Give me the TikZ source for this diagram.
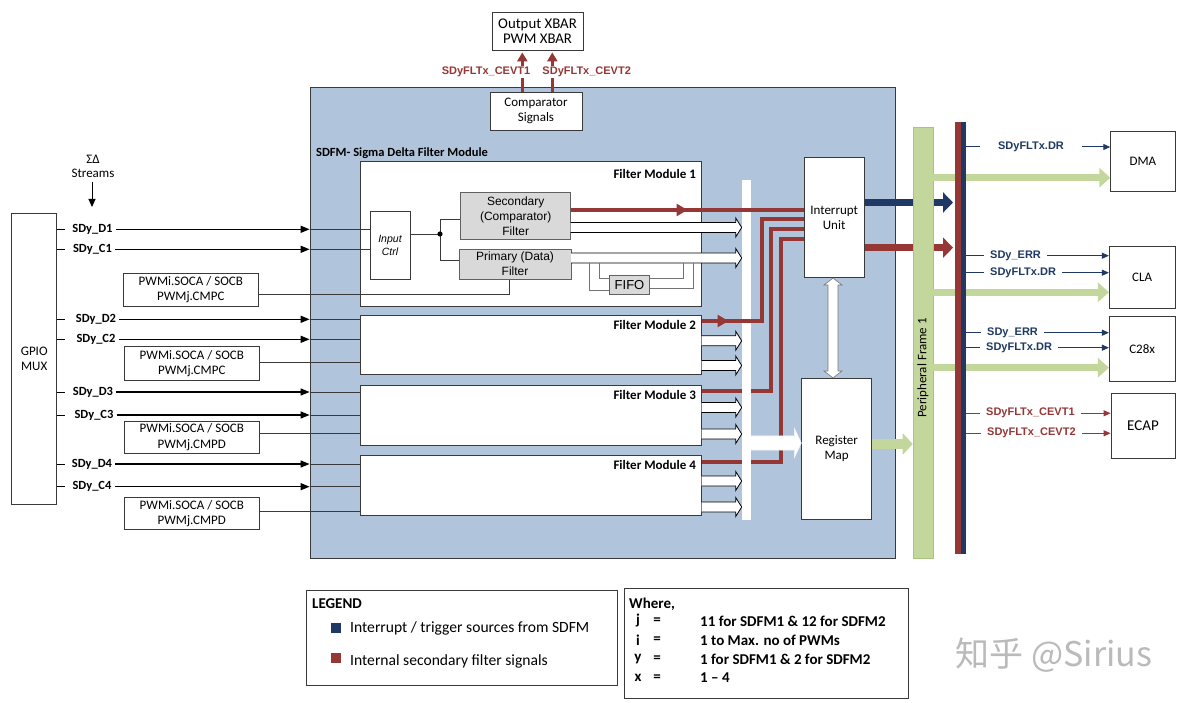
\documentclass[tikz,border=0pt]{standalone}
\usepackage{fontspec}
\setmainfont{Carlito}
\newfontfamily\arialf{Liberation Sans}
\newfontfamily\cjkf{Noto Sans CJK SC}
\usetikzlibrary{arrows.meta}
\definecolor{sdblue}{HTML}{B0C4DC}
\definecolor{redc}{HTML}{953735}
\definecolor{navyc}{HTML}{1F3864}
\definecolor{greenc}{HTML}{C3D69B}
\definecolor{greenl}{HTML}{A9C47F}
\definecolor{grayf}{HTML}{D9D9D9}
\definecolor{bline}{HTML}{3A3A3A}
\newcommand\hollowarrow[3]{\draw[fill=white,draw=black,line width=0.8pt] (#1,{#3-5}) -- ({#2-6},{#3-5}) -- ({#2-6},{#3-9.5}) -- (#2,#3) -- ({#2-6},{#3+9.5}) -- ({#2-6},{#3+5}) -- (#1,{#3+5});}
\begin{document}
\begin{tikzpicture}[x=1pt,y=-1pt,
 bx/.style={draw=bline,line width=0.8pt,fill=white,inner sep=0pt,align=center,font=\fontsize{13}{15.3}\selectfont},
 grbx/.style={draw=bline!80,line width=0.8pt,fill=grayf,inner sep=0pt,align=center,font=\arialf\fontsize{12}{15}\selectfont},
 fmlab/.style={anchor=east,inner sep=0pt,font=\bfseries\fontsize{13}{15}\selectfont},
 sig/.style={inner sep=3pt,font=\bfseries\fontsize{12.5}{15}\selectfont},
 sigarr/.style={line width=1.3pt,-{Triangle[length=9pt,width=7pt]}},
 thinl/.style={draw=bline,line width=0.9pt},
 fifol/.style={draw=black!55,line width=0.9pt},
 redl/.style={draw=redc,line width=4pt},
 rlab/.style={fill=white,inner xsep=6pt,inner ysep=1pt,anchor=west,font=\arialf\bfseries\fontsize{11}{13}\selectfont},
 toplab/.style={fill=white,inner sep=1pt,text=redc,font=\arialf\bfseries\fontsize{11}{13}\selectfont},
 tharr/.style={line width=1pt,-{Triangle[length=7pt,width=6pt]}},
 grarr/.style={draw=greenc,line width=7pt,-{Triangle[length=11pt,width=19pt]}},
 legt/.style={anchor=west,inner sep=0pt,font=\fontsize{15.6}{17}\selectfont},
 wht/.style={inner sep=0pt,font=\bfseries\fontsize{15}{17}\selectfont},
]
\fill[white] (0,0) rectangle (1187,703);
\useasboundingbox (0,0) rectangle (1187,703);

% SDFM main block
\node[draw=bline,line width=0.8pt,fill=sdblue,minimum width=585pt,minimum height=471pt,inner sep=0pt] (sdfm) at (602.5,322.5) {};
\node[anchor=west,inner sep=0pt,font=\bfseries\fontsize{12.5}{15}\selectfont] (sdfmt) at (316,153) {SDFM- Sigma Delta Filter Module};

% top boxes
\node[bx,font=\fontsize{14.8}{14.7}\selectfont,minimum width=91pt,minimum height=38pt] (oxbar) at (537.5,31) {Output XBAR\\PWM XBAR};
\node[bx,minimum width=92pt,minimum height=38pt] (cmp) at (536,111) {Comparator\\Signals};
\draw[draw=redc,line width=3pt,-{Triangle[length=9pt,width=10pt]},shorten >=2pt] (cmp.north -| 522.3,0) -- (oxbar.south -| 522.3,0);
\draw[draw=redc,line width=3pt,-{Triangle[length=9pt,width=10pt]},shorten >=2pt] (cmp.north -| 552.3,0) -- (oxbar.south -| 552.3,0);
\node[toplab] (cev1) at (486,72) {SDyFLTx\_CEVT1};
\node[toplab] (cev2) at (586.7,72) {SDyFLTx\_CEVT2};

% filter modules
\node[bx,minimum width=341.7pt,minimum height=145pt] (fm1) at (530.85,233.5) {};
\node[bx,minimum width=341.7pt,minimum height=59pt] (fm2) at (530.85,344.5) {};
\node[bx,minimum width=341.7pt,minimum height=60pt] (fm3) at (530.85,415) {};
\node[bx,minimum width=341.7pt,minimum height=60pt] (fm4) at (530.85,485) {};
\node[fmlab] at ([xshift=-6pt,yshift=-13pt]fm1.north east) {Filter Module 1};
\node[fmlab] at ([xshift=-6pt,yshift=-10pt]fm2.north east) {Filter Module 2};
\node[fmlab] at ([xshift=-6pt,yshift=-10pt]fm3.north east) {Filter Module 3};
\node[fmlab] at ([xshift=-6pt,yshift=-10pt]fm4.north east) {Filter Module 4};

% inside filter module 1
\node[bx,font=\arialf\itshape\fontsize{10.5}{13.3}\selectfont,minimum width=40pt,minimum height=67.6pt] (ictrl) at (390,245.5) {Input\\Ctrl};
\node[grbx,minimum width=110pt,minimum height=46.6pt] (sec) at (515.7,216) {Secondary\\(Comparator)\\Filter};
\node[grbx,minimum width=112pt,minimum height=30.3pt] (pri) at (515,264.15) {Primary (Data)\\Filter};
\node[grbx,font=\arialf\fontsize{13}{15}\selectfont,minimum width=39.6pt,minimum height=18.7pt] (fifo) at (629.5,284.65) {FIFO};
\coordinate (dot) at (440,234);
\draw[thinl] (ictrl.east |- dot) -- (dot);
\draw[thinl] (dot) |- (sec.west |- 0,219.3);
\draw[thinl] (dot) |- (pri.west |- 0,260);
\fill[black] (dot) circle (2.6pt);

% interrupt unit and register map
\node[bx,minimum width=60.3pt,minimum height=120pt] (iu) at (834.15,217.7) {Interrupt\\Unit};
\node[bx,minimum width=70pt,minimum height=140.7pt] (rm) at (836.7,448.65) {Register\\Map};

% hollow arrows
\hollowarrow{570.7}{741.7}{227.5}
\hollowarrow{571}{741.7}{258}
\hollowarrow{701.7}{741.7}{340.8}
\hollowarrow{701.7}{741.7}{365.5}
\hollowarrow{701.7}{741.7}{407.5}
\hollowarrow{701.7}{741.7}{434}
\hollowarrow{701.7}{741.7}{481}
\hollowarrow{701.7}{741.7}{507}

% FIFO loops
\draw[fifol] (589.3,263.3) |- (fifo.west |- 0,290);
\draw[fifol] (599.3,263.3) |- (fifo.west |- 0,278.3);
\draw[fifol] (fifo.east |- 0,278.3) -| (683.3,263.3);
\draw[fifol] (fifo.east |- 0,288.3) -| (693.3,263.3);

% red internal lines (behind the bar)
\draw[redl] (fm3.east |- 0,390.7) -| (771,229.5) -- (iu.west |- 0,229.5);
\draw[redl] (fm4.east |- 0,461.7) -| (781,239.5) -- (iu.west |- 0,239.5);

% white bar
\node[fill=white,minimum width=9pt,minimum height=340pt,inner sep=0pt] (wbar) at (746.5,350) {};

% red internal lines (over the bar)
\draw[redl] (sec.east |- 0,210) -- (iu.west |- 0,210);
\draw[draw=redc,line width=4pt,-{Triangle[length=11pt,width=12pt]}] (674,210) -- (687.5,210);
\draw[redl] (fm2.east |- 0,321) -| (761.5,219.5) -- (iu.west |- 0,219.5);
\draw[draw=redc,line width=4pt,-{Triangle[length=11pt,width=12pt]}] (714,321) -- (728.5,321);

% white arrow bar -> register map
\draw[fill=white,draw=white!80!sdblue,line width=0.6pt] (wbar.east |- 0,436) -- (794.5,436) -- (794.5,428.5) -- (rm.west |- 0,443) -- (794.5,457.5) -- (794.5,450) -- (wbar.east |- 0,450);
% double arrow iu <-> rm
\draw[fill=white,draw=bline!70,line width=0.6pt] (iu.south -| 833,0) -- (842,285) -- (838,285) -- (838,371) -- (842,371) -- (rm.north -| 833,0) -- (824,371) -- (828,371) -- (828,285) -- (824,285) -- cycle;

% thick arrows to the bus
\coordinate (busin) at (953,338);
\draw[draw=navyc,line width=6.5pt,-{Triangle[length=10pt,width=20pt]}] (iu.east |- 0,202.5) -- (busin |- 0,202.5);
\draw[draw=redc,line width=6.7pt,-{Triangle[length=10pt,width=20pt]}] (iu.east |- 0,247.7) -- (busin |- 0,247.7);

% peripheral frame
\node[fill=greenc,draw=greenl,line width=0.6pt,minimum width=20pt,minimum height=431pt,inner sep=0pt] (pf) at (923,342.5) {};
\node[rotate=90,inner sep=0pt,font=\fontsize{13}{15}\selectfont] (pft) at (923,368) {Peripheral Frame 1};

% right boxes
\node[bx,minimum width=64.3pt,minimum height=60pt] (dma) at (1142.85,161) {DMA};
\node[bx,minimum width=65.7pt,minimum height=62.3pt] (cla) at (1142.15,277.15) {CLA};
\node[bx,minimum width=65.7pt,minimum height=64.3pt] (c28) at (1142.15,348.85) {C28x};
\node[bx,minimum width=64pt,minimum height=65pt,font=\fontsize{15}{17}\selectfont] (ecap) at (1143,425.8) {ECAP};

% green arrows
\draw[grarr] (pf.east |- 0,177.7) -- (dma.west |- 0,177.7);
\draw[grarr] (pf.east |- 0,292.3) -- (cla.west |- 0,292.3);
\draw[grarr] (pf.east |- 0,367.7) -- (c28.west |- 0,367.7);
\draw[draw=greenc,line width=9pt,-{Triangle[length=10pt,width=21pt]}] (rm.east |- 0,444) -- (pf.west |- 0,444);

% bus
\node[fill=redc,minimum width=5.7pt,minimum height=432pt,inner sep=0pt] (busr) at (957.85,338) {};
\node[fill=navyc,minimum width=5pt,minimum height=432pt,inner sep=0pt] (busn) at (963.2,338) {};

% signals to right boxes
\draw[tharr,navyc] (busn.east |- 0,147) -- (dma.west |- 0,147);
\node[rlab,text=navyc,anchor=center,inner xsep=18pt] at (1031,147) {SDyFLTx.DR};
\draw[tharr,navyc] (busn.east |- 0,255.7) -- (cla.west |- 0,255.7);
\node[rlab,text=navyc] at (984,255.7) {SDy\_ERR};
\draw[tharr,navyc] (busn.east |- 0,272.7) -- (cla.west |- 0,272.7);
\node[rlab,text=navyc] at (984,272.7) {SDyFLTx.DR};
\draw[tharr,navyc] (busn.east |- 0,332.7) -- (c28.west |- 0,332.7);
\node[rlab,text=navyc] at (981,332.7) {SDy\_ERR};
\draw[tharr,navyc] (busn.east |- 0,347.7) -- (c28.west |- 0,347.7);
\node[rlab,text=navyc] at (980,347.7) {SDyFLTx.DR};
\draw[tharr,redc] (busn.east |- 0,413.3) -- (ecap.west |- 0,413.3);
\node[rlab,text=redc] at (980,413.3) {SDyFLTx\_CEVT1};
\draw[tharr,redc] (busn.east |- 0,433.3) -- (ecap.west |- 0,433.3);
\node[rlab,text=redc] at (981,433.3) {SDyFLTx\_CEVT2};

% left side
\node[bx,minimum width=45pt,minimum height=290.7pt] (gpio) at (34.2,358.65) {GPIO\\MUX};
\node[bx,minimum width=135pt,minimum height=33pt] (pwm1) at (190.8,289.5) {PWMi.SOCA / SOCB\\PWMj.CMPC};
\node[bx,minimum width=135pt,minimum height=33.3pt] (pwm2) at (191.8,363.35) {PWMi.SOCA / SOCB\\PWMj.CMPC};
\node[bx,minimum width=135pt,minimum height=32.3pt] (pwm3) at (191.8,437.15) {PWMi.SOCA / SOCB\\PWMj.CMPD};
\node[bx,minimum width=135pt,minimum height=32pt] (pwm4) at (191.8,513.3) {PWMi.SOCA / SOCB\\PWMj.CMPD};
\draw[thinl] (pwm1.east |- 0,294) -| (pri.south -| 509.3,0);
\draw[thinl] (pwm2.east |- 0,362.7) -- (fm2.west |- 0,362.7);
\draw[thinl] (pwm3.east |- 0,433.3) -- (fm3.west |- 0,433.3);
\draw[thinl] (pwm4.east |- 0,511) -- (fm4.west |- 0,511);

\foreach \nm/\yy/\xx/\tgt in {D1/229.3/92.5/ictrl, C1/249.3/92.5/ictrl, D2/319.3/96/fm2, C2/339.3/96/fm2, D3/392/93/fm3, C3/415/94/fm3, D4/464/92/fm4, C4/486.7/92/fm4}{
  \node[sig] (l\nm) at (\xx,\yy) {SDy\_\nm};
  \draw[line width=0.9pt] (gpio.east |- l\nm) -- ++(8,0);
  \draw[sigarr] (l\nm.east) -- (sdfm.west |- l\nm);
  \draw[thinl] (sdfm.west |- l\nm) -- (\tgt.west |- l\nm);
}

\node[inner sep=0pt,align=center,font=\fontsize{13}{14.7}\selectfont] (sd) at (93,166.5) {ΣΔ\\Streams};
\coordinate (sdend) at (92,207);
\draw[line width=1pt,-{Triangle[length=8pt,width=7pt]}] (sd.south -| sdend) ++(0,4) -- (sdend);

% legend
\node[draw=bline,line width=0.8pt,minimum width=311pt,minimum height=95pt,inner sep=0pt] (leg) at (461.5,637.5) {};
\node[legt,font=\bfseries\fontsize{15}{17}\selectfont] (legt) at (312,604) {LEGEND};
\node[fill=navyc,minimum size=10pt,inner sep=0pt] (sqb) at (336,628) {};
\node[legt] (legb) at (350,628) {Interrupt / trigger sources from SDFM};
\node[fill=redc,minimum size=10pt,inner sep=0pt] (sqr) at (336,658) {};
\node[legt] (legr) at (350,661) {Internal secondary filter signals};

\node[draw=bline,line width=0.8pt,minimum width=284pt,minimum height=110pt,inner sep=0pt] (where) at (766,643) {};
\node[wht,anchor=west] (wh) at (629,604) {Where,};
\node[wht] at (638,621) {j};
\node[wht] at (657,621) {=};
\node[wht,anchor=west] at (700,621) {11 for SDFM1 \& 12 for SDFM2};
\node[wht] at (638,640) {i};
\node[wht] at (657,640) {=};
\node[wht,anchor=west] at (700,640) {1 to Max. no of PWMs};
\node[wht] at (638,659) {y};
\node[wht] at (657,659) {=};
\node[wht,anchor=west] at (700,659) {1 for SDFM1 \& 2 for SDFM2};
\node[wht] at (638,678) {x};
\node[wht] at (657,678) {=};
\node[wht,anchor=west] at (700,678) {1 – 4};

% watermark
\node[text=black!27,inner sep=0pt,font=\cjkf\fontsize{34}{34}\selectfont] (wm) at (1054,655) {知乎 @Sirius};
\end{tikzpicture}
\end{document}
